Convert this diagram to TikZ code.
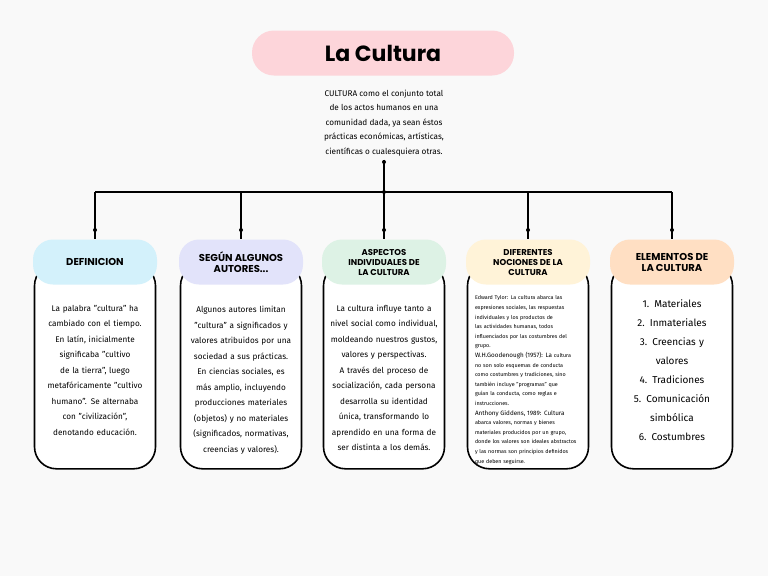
\documentclass[tikz,border=0pt]{standalone}
\usepackage{fontspec}
\setmainfont{Fira Sans}
\newfontfamily\hfont{Poppins}
\definecolor{bg}{HTML}{F9F9F9}
\definecolor{cpink}{HTML}{FDD5DA}
\definecolor{cblue}{HTML}{D3F1FB}
\definecolor{clav}{HTML}{E2E3FA}
\definecolor{cmint}{HTML}{DDF2E5}
\definecolor{cyel}{HTML}{FFF3D8}
\definecolor{cpeach}{HTML}{FFDFC3}
\hyphenpenalty=10000 \exhyphenpenalty=10000
\begin{document}
\begin{tikzpicture}[x=1pt,y=-1pt,
  body/.style={draw=black,line width=1.6pt,fill=white,rounded corners=22pt,minimum width=121pt,minimum height=205pt,anchor=north},
  head/.style={rounded corners=20pt,minimum width=124pt,minimum height=45pt,align=center,font=\hfont\bfseries\fontsize{10}{11}\selectfont},
  txt/.style={align=center,font=\fontsize{8.2}{15.5}\selectfont,text width=100pt},
  conn/.style={line width=1.6pt},
  dot/.style={circle,fill=black,inner sep=0pt,minimum size=4pt}]
\fill[bg] (0,0) rectangle (768,576);
\node[fill=cpink,rounded corners=22pt,minimum width=262pt,minimum height=45pt,font=\hfont\bfseries\fontsize{22}{24}\selectfont] (title) at (383,53) {La Cultura};
\node[align=center,font=\fontsize{8.2}{14.5}\selectfont] (intro) at (384,123) {CULTURA como el conjunto total\\de los actos humanos en una\\comunidad dada, ya sean éstos\\prácticas económicas, artísticas,\\científicas o cualesquiera otras.};
\coordinate (j) at (384,192);
\coordinate (l) at (95,192);
\coordinate (r) at (672,192);
\draw[conn] (intro.south) -- (j);
\draw[conn] (l) -- (r);
\node[dot] at (384,162) {};
\node[dot] at (j) {};
\node[body] (b1) at (95,263) {};
\node[body] (b2) at (241,263) {};
\node[body] (b3) at (384,263) {};
\node[body] (b4) at (528,263) {};
\node[body] (b5) at (672,263) {};
\node[head,fill=cblue] (h1) at (95,262) {DEFINICION};
\node[head,fill=clav] (h2) at (241,262) {SEGÚN ALGUNOS\\AUTORES...};
\node[head,fill=cmint,font=\hfont\bfseries\fontsize{8.5}{10}\selectfont] (h3) at (384,262) {ASPECTOS\\INDIVIDUALES DE\\LA CULTURA};
\node[head,fill=cyel,font=\hfont\bfseries\fontsize{8.5}{10}\selectfont] (h4) at (528,262) {DIFERENTES\\NOCIONES DE LA\\CULTURA};
\node[head,fill=cpeach] (h5) at (672,262) {ELEMENTOS DE\\LA CULTURA};
\foreach \i/\x in {1/95,2/241,3/384,4/528,5/672}{
  \draw[conn] (\x,192) -- (h\i.north);
  \node[dot] at (\x,230) {};
}
\node[txt] (t1) at (95,370) {La palabra "cultura" ha cambiado con el tiempo. En latín, inicialmente significaba "cultivo de la tierra", luego metafóricamente "cultivo humano". Se alternaba con "civilización", denotando educación.};
\node[txt,text width=106pt] (t2) at (241,380) {Algunos autores limitan "cultura" a significados y valores atribuidos por una sociedad a sus prácticas. En ciencias sociales, es más amplio, incluyendo producciones materiales (objetos) y no materiales (significados, normativas, creencias y valores).};
\node[txt,text width=110pt] (t3) at (384,378) {La cultura influye tanto a nivel social como individual, moldeando nuestros gustos, valores y perspectivas. A través del proceso de socialización, cada persona desarrolla su identidad única, transformando lo aprendido en una forma de ser distinta a los demás.};
\node[txt,text width=102pt,align=left,font=\fontsize{5.4}{9.6}\selectfont] (t4) at (526,380) {Edward Tylor: La cultura abarca las expresiones sociales, las respuestas individuales y los productos de las actividades humanas, todos influenciados por las costumbres del grupo.\\ {\fontsize{6.3}{9.6}\selectfont W.H.Goodenough (1957): La} cultura no son solo esquemas de conducta como costumbres y tradiciones, sino también incluye "programas" que guían la conducta, como reglas e instrucciones.\\ {\fontsize{6.3}{9.6}\selectfont Anthony Giddens, 1989: Cultura} abarca valores, normas y bienes materiales producidos por un grupo, donde los valores son ideales abstractos y las normas son principios definidos que deben seguirse.};
\node[txt,font=\fontsize{10}{19}\selectfont] (t5) at (672,370) {1. Materiales\\2. Inmateriales\\3. Creencias y\\valores\\4. Tradiciones\\5. Comunicación\\simbólica\\6. Costumbres};
\end{tikzpicture}
\end{document}
